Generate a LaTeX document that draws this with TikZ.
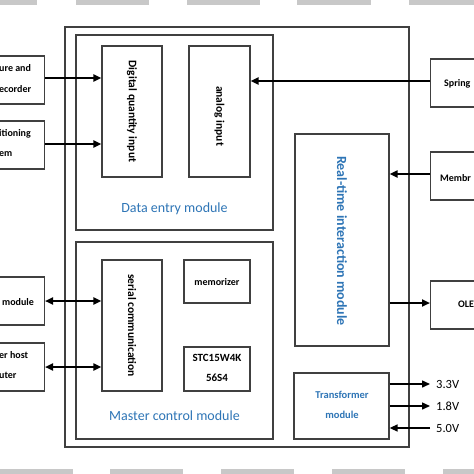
\documentclass[tikz,border=0pt]{standalone}
\usepackage{fontspec}
\setmainfont{Carlito}
\usetikzlibrary{arrows.meta}
\definecolor{boxgray}{HTML}{404040}
\definecolor{barg}{HTML}{C8C8C8}
\definecolor{tblue}{HTML}{2E75B6}
\tikzset{
  frame/.style={draw=boxgray, line width=1.3pt},
  lbl/.style={font=\bfseries\fontsize{10}{12}\selectfont, text=black, inner sep=0pt},
  vlbl/.style={font=\bfseries\fontsize{11.5}{13}\selectfont, text=black, inner sep=0pt, rotate=-90},
  bluel/.style={font=\fontsize{14}{16}\selectfont, text=tblue, inner sep=0pt},
  volt/.style={font=\fontsize{12.5}{14}\selectfont, anchor=west, inner sep=0pt},
  conn/.style={line width=2pt, -{Triangle[length=8pt,width=7pt]}},
  bconn/.style={line width=2pt, {Triangle[length=8pt,width=7pt]}-{Triangle[length=8pt,width=7pt]}},
  bar/.style={fill=barg, draw=none}
}
\begin{document}
\begin{tikzpicture}[x=1pt,y=-1pt]
\useasboundingbox (0,0) rectangle (474,474);
\fill[white] (0,0) rectangle (474,474);
% gray bars
\foreach \a/\b in {0/37,76/149,187/260,297/371,409/474}
  \fill[bar] (\a,0) rectangle (\b,5);
\foreach \a/\b in {0/73,110/183,221/294,332/405,443/474}
  \fill[bar] (\a,469) rectangle (\b,474);
% main frame
\draw[frame] (65,27) rectangle (409,447);
% data entry module
\node[frame, minimum width=197pt, minimum height=195pt, inner sep=0pt] (dem) at (174.5,132.5) {};
\node[frame, minimum width=60pt, minimum height=131pt, inner sep=0pt] (dqi) at (132,111.5) {};
\node[vlbl] (dqit) at (132,111.5) {Digital quantity input};
\node[frame, minimum width=61pt, minimum height=131pt, inner sep=0pt] (ain) at (219.5,111.5) {};
\node[vlbl] (aint) at (219.5,116) {analog input};
\node[bluel] (demt) at (174.5,209) {Data entry module};
% master control module
\node[frame, minimum width=197pt, minimum height=197pt, inner sep=0pt] (mcm) at (174.5,340.5) {};
\node[frame, minimum width=60pt, minimum height=131pt, inner sep=0pt] (ser) at (132,325.5) {};
\node[vlbl] (sert) at (132,325.5) {serial communication};
\node[frame, minimum width=66pt, minimum height=43pt, inner sep=0pt] (mem) at (217,281.5) {};
\node[lbl] (memt) at (217,282) {memorizer};
\node[frame, minimum width=66pt, minimum height=44pt, inner sep=0pt] (stc) at (217,369) {};
\node[lbl, font=\bfseries\fontsize{11}{13}\selectfont] (stc1) at (217,358) {STC15W4K};
\node[lbl, font=\bfseries\fontsize{11}{13}\selectfont] (stc2) at (217,378) {56S4};
\node[bluel] (mcmt) at (174.5,416) {Master control module};
% real-time interaction module
\node[frame, minimum width=94pt, minimum height=212pt, inner sep=0pt] (rt) at (342,240) {};
\node[bluel, font=\bfseries\fontsize{14}{16}\selectfont, rotate=-90] (rtt) at (342,241) {Real-time interaction module};
% transformer
\node[frame, minimum width=95pt, minimum height=66pt, inner sep=0pt] (tr) at (341.5,406) {};
\node[bluel, font=\bfseries\fontsize{10.5}{12}\selectfont] (tr1) at (342,395) {Transformer};
\node[bluel, font=\bfseries\fontsize{10.5}{12}\selectfont] (tr2) at (342,415) {module};
% left external boxes
\node[frame, minimum width=100pt, minimum height=48pt, inner sep=0pt, anchor=east] (l1) at (45,80) {};
\node[lbl, anchor=west] (l1a) at (-1,68) {ure and};
\node[lbl, anchor=west] (l1b) at (-1,89) {ecorder};
\node[frame, minimum width=100pt, minimum height=48pt, inner sep=0pt, anchor=east] (l2) at (45,145) {};
\node[lbl, anchor=west] (l2a) at (-1,134) {itioning};
\node[lbl, anchor=west] (l2b) at (-1,154) {em};
\node[frame, minimum width=100pt, minimum height=48pt, inner sep=0pt, anchor=east] (l3) at (45,301) {};
\node[lbl, anchor=west] (l3a) at (2,302) {module};
\node[frame, minimum width=100pt, minimum height=48pt, inner sep=0pt, anchor=east] (l4) at (45,367) {};
\node[lbl, anchor=west] (l4a) at (-1,355) {er host};
\node[lbl, anchor=west] (l4b) at (-1,375) {uter};
% right external boxes
\node[frame, minimum width=100pt, minimum height=48pt, inner sep=0pt, anchor=west] (r1) at (430,83) {};
\node[lbl, anchor=west] (r1t) at (444,84) {Spring};
\node[frame, minimum width=100pt, minimum height=48pt, inner sep=0pt, anchor=west] (r2) at (430,176) {};
\node[lbl, anchor=west] (r2t) at (440,178) {Membr};
\node[frame, minimum width=100pt, minimum height=48pt, inner sep=0pt, anchor=west] (r3) at (430,305) {};
\node[lbl, anchor=west] (r3t) at (458,304) {OLE};
% voltages
\coordinate (v3) at (430,384);
\coordinate (v1) at (430,406);
\coordinate (v5) at (430,428);
\node[volt] (v3t) at (436,384) {3.3V};
\node[volt] (v1t) at (436,406) {1.8V};
\node[volt] (v5t) at (436,428) {5.0V};
% connectors
\draw[conn] (l1.east |- 0,78) -- (dqi.west |- 0,78);
\draw[conn] (l2.east |- 0,144) -- (dqi.west |- 0,144);
\draw[conn] (r1.west |- 0,81) -- (ain.east |- 0,81);
\draw[conn] (r2.west |- 0,174) -- (rt.east |- 0,174);
\draw[bconn] (l3.east |- 0,301) -- (ser.west |- 0,301);
\draw[bconn] (l4.east |- 0,367) -- (ser.west |- 0,367);
\draw[conn] (rt.east |- 0,303) -- (r3.west |- 0,303);
\draw[conn, line width=1.5pt] (tr.east |- v3) -- (v3);
\draw[conn, line width=1.5pt] (tr.east |- v1) -- (v1);
\draw[conn, line width=1.5pt] (v5) -- (tr.east |- v5);
\end{tikzpicture}
\end{document}
